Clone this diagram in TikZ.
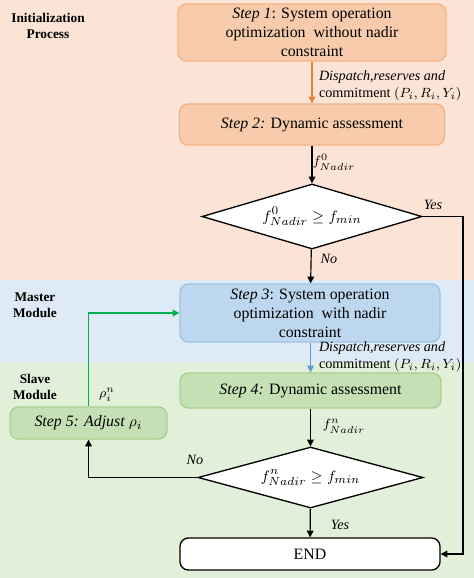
\documentclass[tikz,border=0pt]{standalone}
\usepackage{fontspec}
\setmainfont{Liberation Serif}
\usepackage{tikz}
\usetikzlibrary{shapes.geometric,arrows.meta}
\usepackage{xcolor}
\definecolor{flowbgorange}{RGB}{251, 228, 213}
\definecolor{flowfillorange}{RGB}{248, 203, 173}
\definecolor{flowlineorange}{RGB}{244, 177, 131}
\definecolor{flowarroworange}{RGB}{237, 125, 49}
\definecolor{flowbgblue}{RGB}{222, 235, 247}
\definecolor{flowfillblue}{RGB}{189, 215, 238}
\definecolor{flowlineblue}{RGB}{157, 195, 230}
\definecolor{flowarrowblue}{RGB}{91, 155, 213}
\definecolor{flowbggreen}{RGB}{226, 240, 217}
\definecolor{flowfillgreen}{RGB}{197, 224, 180}
\definecolor{flowlinegreen}{RGB}{169, 209, 142}
\definecolor{flowarrowgreen}{RGB}{0, 176, 80}

\tikzset{
  stepbox/.style={rounded corners=5pt, line width=0.8pt, align=center, inner sep=2pt,
    font=\fontsize{9.5}{11.5}\selectfont},
  orangebox/.style={stepbox, draw=flowlineorange, fill=flowfillorange},
  bluebox/.style={stepbox, draw=flowlineblue, fill=flowfillblue},
  greenbox/.style={stepbox, draw=flowlinegreen, fill=flowfillgreen},
  checkbox/.style={diamond, aspect=3.4, draw, line width=0.8pt, fill=white, inner sep=0pt,
    font=\fontsize{9.5}{11.5}\selectfont},
  flow/.style={-{Triangle[length=4pt,width=4pt]}, line width=0.7pt},
  tag/.style={font=\fontsize{8.5}{10}\selectfont\itshape, inner sep=1pt},
  sidetag/.style={font=\fontsize{8}{9.5}\selectfont\bfseries, align=center, inner sep=0pt}
}

\begin{document}
\begin{tikzpicture}[x=0.6pt, y=-0.6pt]
\useasboundingbox (0,0) rectangle (474,578);
% process bands
\fill[flowbgorange] (0,0) rectangle (474,280);
\fill[flowbgblue] (0,280) rectangle (474,363);
\fill[flowbggreen] (0,363) rectangle (474,578);
\node[sidetag] (init) at (48,26) {Initialization\\Process};
\node[sidetag] (master) at (35,305) {Master\\Module};
\node[sidetag] (slave) at (35,387) {Slave\\Module};

% steps
\node[orangebox, minimum width=160.8pt, minimum height=34.2pt] (s1) at (312,32.5)
  {\textit{Step 1}: System operation\\optimization \ without nadir\\constraint};
\node[orangebox, minimum width=159pt, minimum height=24.6pt] (s2) at (312,124.5)
  {\textit{Step 2:} Dynamic assessment};
\node[checkbox, minimum width=132pt, minimum height=39pt] (d1) at (312,216.5)
  {$f^{0}_{Nadir} \geq f_{min}$};
\node[bluebox, minimum width=156pt, minimum height=34.8pt] (s3) at (310,313)
  {\textit{Step 3}: System operation\\optimization \ with nadir\\constraint};
\node[greenbox, minimum width=156.6pt, minimum height=21pt] (s4) at (310.5,390.5)
  {\textit{Step 4:} Dynamic assessment};
\node[checkbox, minimum width=135pt, minimum height=36.6pt] (d2) at (310.5,477.5)
  {$f^{n}_{Nadir} \geq f_{min}$};
\node[greenbox, minimum width=94.2pt, minimum height=19.2pt] (s5) at (88.5,423)
  {\textit{Step 5: Adjust} $\rho_i$};
\node[stepbox, draw, fill=white, minimum width=156pt, minimum height=19.2pt] (end) at (310,554)
  {END};
\coordinate (rside) at (463,216.5);

% connectors
\draw[flow, flowarroworange] (s1) -- (s2);
\draw[flow] (s2) -- (d1);
\draw[flow] (d1) -- (s3);
\draw[flow, flowarrowblue] (s3.south -| s4) -- (s4);
\draw[flow] (s4) -- (d2);
\draw[flow] (d2) -- (end);
\draw[flow] (d1.east) -- (rside) |- (end.east);
\draw[flow] (d2.west) -| (s5.south);
\draw[flow, flowarrowgreen] (s5.north) |- (s3.west);

% labels
\node[tag, anchor=west, align=left] (disp1) at (317,86)
  {Dispatch,reserves and\\\upshape commitment $(P_i,R_i,Y_i)$};
\node[tag, anchor=west, align=left] (disp2) at (317,357)
  {Dispatch,reserves and\\\upshape commitment $(P_i,R_i,Y_i)$};
\node[tag] (f0) at (334,162) {$f^{0}_{Nadir}$};
\node[tag] (fn) at (344,426) {$f^{n}_{Nadir}$};
\node[tag] (yes1) at (433,205) {Yes};
\node[tag] (no1) at (329,259) {No};
\node[tag] (no2) at (195,460) {No};
\node[tag] (yes2) at (340,525) {Yes};
\node[tag] (rho) at (107,395) {$\rho_i^{n}$};
\end{tikzpicture}
\end{document}
